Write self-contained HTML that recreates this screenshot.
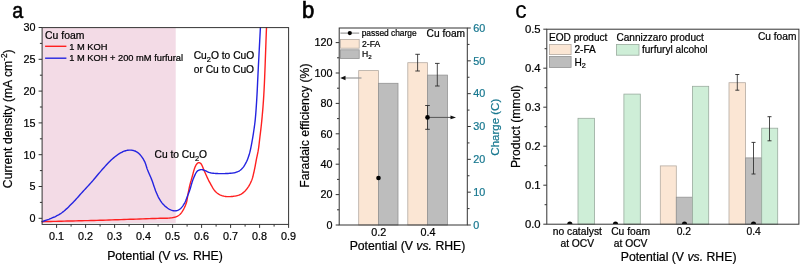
<!DOCTYPE html>
<html><head><meta charset="utf-8"><style>
html,body{margin:0;padding:0;background:#fff;width:800px;height:265px;overflow:hidden}
svg{display:block;will-change:transform}
text{stroke:#000;stroke-width:0.22px;paint-order:stroke}
text.teal{stroke:#17778f}
text.lbl{stroke-width:0}
</style></head><body>
<svg width="800" height="265" viewBox="0 0 800 265" font-family='"Liberation Sans", sans-serif'>
<text transform="translate(12.3,17.7) scale(0.82,0.95)" font-size="24" style="stroke-width:0.6px">a</text>
<rect x="42.1" y="27.6" width="133.6" height="195.4" fill="#f3dbe6"/>
<polyline points="42.10,221.70 44.89,221.63 47.66,221.56 50.44,221.49 53.21,221.42 55.99,221.35 58.77,221.28 61.56,221.21 64.36,221.14 67.17,221.07 70.00,221.00 72.96,220.93 75.93,220.86 78.92,220.80 81.92,220.73 84.93,220.67 87.95,220.60 90.97,220.53 93.98,220.46 97.00,220.38 100.00,220.30 103.00,220.21 106.00,220.12 109.00,220.02 112.00,219.92 115.00,219.82 118.00,219.71 121.00,219.61 124.00,219.50 127.00,219.40 130.00,219.30 133.07,219.20 136.26,219.09 139.51,218.98 142.77,218.87 146.00,218.76 149.16,218.66 152.18,218.56 155.03,218.46 157.65,218.38 160.00,218.30 161.23,218.27 162.38,218.25 163.48,218.24 164.51,218.23 165.50,218.22 166.45,218.21 167.36,218.19 168.25,218.15 169.13,218.09 170.00,218.00 170.67,217.92 171.33,217.84 171.98,217.75 172.60,217.65 173.22,217.54 173.81,217.42 174.39,217.29 174.94,217.14 175.48,216.98 176.00,216.80 176.40,216.64 176.79,216.48 177.16,216.31 177.52,216.13 177.87,215.94 178.21,215.74 178.54,215.53 178.87,215.30 179.18,215.06 179.50,214.80 179.84,214.50 180.16,214.18 180.48,213.84 180.79,213.48 181.09,213.11 181.38,212.72 181.67,212.33 181.95,211.93 182.23,211.52 182.50,211.10 182.80,210.63 183.10,210.13 183.39,209.62 183.68,209.09 183.96,208.55 184.23,208.02 184.49,207.48 184.74,206.94 184.98,206.41 185.20,205.90 185.39,205.46 185.56,205.03 185.72,204.61 185.88,204.20 186.02,203.78 186.17,203.36 186.30,202.93 186.44,202.48 186.57,202.00 186.70,201.50 186.87,200.77 187.04,199.98 187.19,199.16 187.33,198.31 187.47,197.43 187.61,196.54 187.75,195.64 187.89,194.74 188.04,193.86 188.20,193.00 188.37,192.14 188.54,191.28 188.71,190.41 188.88,189.55 189.06,188.68 189.24,187.82 189.43,186.97 189.61,186.13 189.80,185.31 190.00,184.50 190.18,183.80 190.36,183.12 190.54,182.46 190.73,181.81 190.91,181.16 191.11,180.52 191.30,179.86 191.50,179.19 191.70,178.51 191.90,177.80 192.14,176.92 192.39,176.00 192.64,175.04 192.89,174.05 193.15,173.07 193.41,172.09 193.68,171.15 193.95,170.24 194.22,169.38 194.50,168.60 194.70,168.08 194.89,167.56 195.08,167.07 195.28,166.59 195.48,166.13 195.68,165.69 195.89,165.27 196.11,164.89 196.35,164.53 196.60,164.20 196.80,163.97 197.00,163.74 197.22,163.52 197.44,163.32 197.66,163.13 197.89,162.96 198.12,162.82 198.35,162.71 198.57,162.64 198.80,162.60 199.02,162.60 199.24,162.64 199.46,162.70 199.68,162.79 199.91,162.90 200.13,163.04 200.35,163.20 200.57,163.38 200.79,163.58 201.00,163.80 201.37,164.26 201.71,164.82 202.05,165.48 202.37,166.20 202.70,166.98 203.02,167.81 203.34,168.66 203.68,169.52 204.03,170.37 204.40,171.20 204.87,172.23 205.36,173.31 205.86,174.43 206.37,175.57 206.89,176.72 207.42,177.89 207.97,179.05 208.53,180.19 209.11,181.31 209.70,182.40 210.29,183.46 210.89,184.54 211.50,185.64 212.12,186.73 212.75,187.80 213.40,188.83 214.07,189.81 214.76,190.73 215.47,191.56 216.20,192.30 216.79,192.81 217.39,193.28 218.00,193.71 218.63,194.10 219.27,194.45 219.91,194.77 220.57,195.07 221.24,195.33 221.91,195.58 222.60,195.80 223.31,196.01 224.03,196.18 224.76,196.33 225.51,196.44 226.26,196.53 227.02,196.59 227.80,196.63 228.59,196.64 229.39,196.63 230.20,196.60 231.21,196.53 232.27,196.44 233.38,196.31 234.50,196.14 235.63,195.94 236.75,195.70 237.84,195.42 238.89,195.09 239.88,194.72 240.80,194.30 241.55,193.89 242.25,193.43 242.93,192.94 243.57,192.41 244.19,191.85 244.79,191.26 245.36,190.65 245.92,190.01 246.46,189.36 247.00,188.70 247.56,187.96 248.11,187.18 248.63,186.37 249.13,185.53 249.62,184.67 250.08,183.79 250.52,182.90 250.93,182.00 251.33,181.10 251.70,180.20 252.04,179.30 252.35,178.39 252.63,177.48 252.88,176.55 253.12,175.62 253.34,174.67 253.55,173.72 253.77,172.76 253.98,171.78 254.20,170.80 254.44,169.70 254.68,168.58 254.90,167.43 255.13,166.27 255.34,165.10 255.55,163.94 255.77,162.78 255.98,161.63 256.19,160.50 256.40,159.40 256.60,158.43 256.79,157.48 256.99,156.55 257.19,155.63 257.39,154.72 257.58,153.80 257.77,152.88 257.96,151.94 258.13,150.98 258.30,150.00 258.48,148.87 258.64,147.73 258.80,146.57 258.94,145.40 259.09,144.22 259.22,143.01 259.36,141.79 259.50,140.55 259.65,139.29 259.80,138.00 259.98,136.47 260.17,134.91 260.37,133.34 260.56,131.74 260.75,130.11 260.95,128.45 261.14,126.75 261.33,125.01 261.52,123.23 261.70,121.40 261.92,119.06 262.15,116.71 262.36,114.31 262.58,111.87 262.79,109.35 263.00,106.73 263.20,104.01 263.41,101.16 263.60,98.16 263.80,95.00 264.10,89.52 264.39,83.51 264.67,77.06 264.94,70.28 265.20,63.24 265.46,56.05 265.72,48.80 265.97,41.58 266.23,34.48 266.50,27.60" fill="none" stroke="#ff2020" stroke-width="1.4" stroke-linejoin="round" stroke-linecap="round"/>
<polyline points="42.10,221.60 42.95,221.31 43.79,221.02 44.63,220.75 45.47,220.47 46.31,220.20 47.15,219.91 48.00,219.61 48.86,219.30 49.72,218.96 50.60,218.60 51.62,218.17 52.66,217.72 53.71,217.26 54.78,216.78 55.85,216.27 56.92,215.74 57.98,215.19 59.04,214.60 60.08,213.97 61.10,213.30 62.20,212.51 63.29,211.67 64.37,210.78 65.44,209.85 66.49,208.88 67.54,207.89 68.59,206.88 69.63,205.86 70.66,204.83 71.70,203.80 72.78,202.71 73.86,201.59 74.92,200.44 75.98,199.28 77.03,198.10 78.09,196.92 79.14,195.73 80.19,194.55 81.24,193.37 82.30,192.20 83.37,191.04 84.44,189.87 85.53,188.70 86.61,187.53 87.69,186.36 88.76,185.19 89.83,184.03 90.87,182.88 91.90,181.73 92.90,180.60 93.79,179.58 94.65,178.56 95.49,177.55 96.31,176.55 97.13,175.55 97.95,174.56 98.77,173.57 99.60,172.58 100.44,171.59 101.30,170.60 102.21,169.57 103.15,168.52 104.10,167.45 105.07,166.38 106.04,165.32 107.00,164.29 107.94,163.28 108.86,162.33 109.75,161.43 110.60,160.60 111.18,160.05 111.75,159.52 112.30,159.03 112.83,158.56 113.36,158.10 113.89,157.66 114.41,157.24 114.93,156.82 115.46,156.41 116.00,156.00 116.50,155.62 117.00,155.25 117.49,154.88 117.99,154.52 118.49,154.17 118.99,153.83 119.50,153.51 120.02,153.19 120.55,152.89 121.10,152.60 121.70,152.30 122.31,152.01 122.94,151.73 123.58,151.46 124.23,151.20 124.88,150.97 125.54,150.75 126.19,150.57 126.85,150.42 127.50,150.30 128.13,150.22 128.77,150.16 129.41,150.12 130.06,150.11 130.70,150.12 131.34,150.16 131.97,150.22 132.60,150.32 133.21,150.44 133.80,150.60 134.37,150.79 134.93,151.00 135.48,151.24 136.03,151.51 136.56,151.81 137.09,152.13 137.60,152.48 138.11,152.86 138.61,153.27 139.10,153.70 139.69,154.27 140.28,154.90 140.85,155.59 141.41,156.31 141.96,157.07 142.49,157.85 143.01,158.66 143.50,159.47 143.96,160.29 144.40,161.10 144.81,161.93 145.17,162.78 145.50,163.65 145.80,164.54 146.09,165.43 146.37,166.34 146.66,167.25 146.95,168.17 147.26,169.08 147.60,170.00 148.00,170.99 148.41,171.99 148.84,172.99 149.27,174.00 149.72,175.01 150.16,176.03 150.61,177.06 151.05,178.10 151.48,179.14 151.90,180.20 152.33,181.35 152.75,182.53 153.17,183.74 153.58,184.95 153.98,186.17 154.39,187.39 154.80,188.59 155.22,189.76 155.65,190.90 156.10,192.00 156.49,192.93 156.88,193.84 157.28,194.74 157.67,195.62 158.07,196.48 158.49,197.33 158.91,198.16 159.36,198.96 159.82,199.74 160.30,200.50 160.75,201.17 161.22,201.82 161.70,202.46 162.19,203.08 162.70,203.68 163.21,204.26 163.74,204.83 164.28,205.37 164.84,205.90 165.40,206.40 165.96,206.87 166.53,207.33 167.12,207.78 167.72,208.22 168.33,208.63 168.95,209.02 169.57,209.37 170.19,209.69 170.80,209.97 171.40,210.20 171.90,210.36 172.41,210.50 172.92,210.62 173.44,210.71 173.95,210.78 174.45,210.82 174.95,210.83 175.44,210.82 175.93,210.77 176.40,210.70 176.85,210.60 177.29,210.46 177.73,210.30 178.17,210.11 178.59,209.90 179.01,209.66 179.42,209.40 179.82,209.12 180.22,208.82 180.60,208.50 181.04,208.10 181.47,207.65 181.88,207.17 182.29,206.66 182.68,206.13 183.06,205.57 183.43,204.99 183.80,204.40 184.15,203.80 184.50,203.20 184.88,202.48 185.25,201.72 185.61,200.93 185.95,200.11 186.28,199.28 186.61,198.44 186.92,197.62 187.22,196.81 187.51,196.04 187.80,195.30 188.02,194.74 188.23,194.21 188.43,193.70 188.63,193.20 188.82,192.71 189.01,192.21 189.20,191.70 189.39,191.17 189.59,190.61 189.80,190.00 190.11,189.06 190.42,188.04 190.73,186.96 191.05,185.83 191.38,184.67 191.72,183.50 192.07,182.34 192.43,181.21 192.81,180.12 193.20,179.10 193.56,178.21 193.93,177.30 194.32,176.38 194.72,175.47 195.12,174.59 195.53,173.75 195.95,172.98 196.36,172.28 196.78,171.68 197.20,171.20 197.43,170.99 197.65,170.81 197.88,170.66 198.11,170.53 198.34,170.42 198.57,170.32 198.80,170.23 199.03,170.15 199.26,170.08 199.50,170.00 199.72,169.93 199.95,169.86 200.17,169.79 200.40,169.73 200.62,169.68 200.85,169.64 201.08,169.61 201.32,169.60 201.56,169.59 201.80,169.60 202.10,169.63 202.40,169.69 202.71,169.76 203.02,169.86 203.34,169.96 203.66,170.08 203.98,170.21 204.32,170.34 204.66,170.47 205.00,170.60 205.43,170.77 205.86,170.96 206.30,171.17 206.74,171.39 207.19,171.61 207.66,171.84 208.14,172.05 208.64,172.26 209.16,172.44 209.70,172.60 210.45,172.78 211.25,172.94 212.08,173.07 212.95,173.19 213.84,173.29 214.75,173.37 215.68,173.45 216.62,173.51 217.56,173.56 218.50,173.60 219.61,173.64 220.78,173.65 221.98,173.65 223.22,173.63 224.45,173.60 225.67,173.56 226.85,173.51 227.98,173.44 229.04,173.37 230.00,173.30 230.59,173.25 231.14,173.20 231.67,173.16 232.17,173.11 232.66,173.05 233.13,172.98 233.60,172.91 234.06,172.82 234.53,172.72 235.00,172.60 235.46,172.47 235.92,172.33 236.38,172.19 236.83,172.03 237.28,171.86 237.72,171.68 238.16,171.48 238.58,171.27 239.00,171.04 239.40,170.80 239.80,170.53 240.19,170.25 240.58,169.94 240.95,169.62 241.32,169.29 241.68,168.94 242.02,168.59 242.36,168.23 242.69,167.87 243.00,167.50 243.29,167.14 243.57,166.77 243.84,166.39 244.09,166.00 244.34,165.61 244.58,165.21 244.82,164.81 245.05,164.41 245.27,164.00 245.50,163.60 245.72,163.20 245.94,162.80 246.15,162.40 246.35,162.00 246.56,161.60 246.75,161.19 246.94,160.78 247.13,160.36 247.32,159.93 247.50,159.50 247.69,159.03 247.88,158.54 248.06,158.05 248.23,157.56 248.40,157.06 248.57,156.55 248.73,156.04 248.89,155.53 249.05,155.01 249.20,154.50 249.36,153.97 249.50,153.44 249.65,152.92 249.79,152.39 249.93,151.86 250.06,151.32 250.20,150.76 250.33,150.19 250.46,149.61 250.60,149.00 250.77,148.19 250.95,147.35 251.12,146.48 251.29,145.59 251.47,144.67 251.64,143.74 251.81,142.81 251.97,141.87 252.14,140.93 252.30,140.00 252.47,139.02 252.64,138.04 252.80,137.04 252.97,136.04 253.13,135.04 253.29,134.03 253.45,133.02 253.60,132.01 253.75,131.00 253.90,130.00 254.04,129.02 254.18,128.06 254.32,127.11 254.45,126.17 254.58,125.22 254.71,124.25 254.83,123.26 254.96,122.22 255.08,121.14 255.20,120.00 255.37,118.30 255.53,116.51 255.69,114.64 255.84,112.69 255.99,110.69 256.14,108.62 256.28,106.52 256.42,104.37 256.56,102.20 256.70,100.00 256.86,97.27 257.02,94.47 257.17,91.61 257.31,88.69 257.45,85.70 257.59,82.66 257.74,79.57 257.89,76.43 258.04,73.24 258.20,70.00 258.40,66.06 258.61,61.99 258.83,57.82 259.05,53.57 259.27,49.26 259.50,44.91 259.73,40.55 259.95,36.20 260.18,31.87 260.40,27.60" fill="none" stroke="#2424e0" stroke-width="1.4" stroke-linejoin="round" stroke-linecap="round"/>
<rect x="42.1" y="27.6" width="246.50000000000003" height="196.8" fill="none" stroke="#333" stroke-width="1"/>
<line x1="38.6" y1="218.30" x2="42.1" y2="218.30" stroke="#333" stroke-width="1"/>
<text x="35.4" y="222.10000000000002" font-size="10.8" text-anchor="end" fill="#000" >0</text>
<line x1="39.9" y1="202.40" x2="42.1" y2="202.40" stroke="#333" stroke-width="1"/>
<line x1="38.6" y1="186.50" x2="42.1" y2="186.50" stroke="#333" stroke-width="1"/>
<text x="35.4" y="190.3" font-size="10.8" text-anchor="end" fill="#000" >5</text>
<line x1="39.9" y1="170.60" x2="42.1" y2="170.60" stroke="#333" stroke-width="1"/>
<line x1="38.6" y1="154.70" x2="42.1" y2="154.70" stroke="#333" stroke-width="1"/>
<text x="35.4" y="158.50000000000003" font-size="10.8" text-anchor="end" fill="#000" >10</text>
<line x1="39.9" y1="138.80" x2="42.1" y2="138.80" stroke="#333" stroke-width="1"/>
<line x1="38.6" y1="122.90" x2="42.1" y2="122.90" stroke="#333" stroke-width="1"/>
<text x="35.4" y="126.7" font-size="10.8" text-anchor="end" fill="#000" >15</text>
<line x1="39.9" y1="107.00" x2="42.1" y2="107.00" stroke="#333" stroke-width="1"/>
<line x1="38.6" y1="91.10" x2="42.1" y2="91.10" stroke="#333" stroke-width="1"/>
<text x="35.4" y="94.9" font-size="10.8" text-anchor="end" fill="#000" >20</text>
<line x1="39.9" y1="75.20" x2="42.1" y2="75.20" stroke="#333" stroke-width="1"/>
<line x1="38.6" y1="59.30" x2="42.1" y2="59.30" stroke="#333" stroke-width="1"/>
<text x="35.4" y="63.10000000000001" font-size="10.8" text-anchor="end" fill="#000" >25</text>
<line x1="39.9" y1="43.40" x2="42.1" y2="43.40" stroke="#333" stroke-width="1"/>
<line x1="38.6" y1="27.50" x2="42.1" y2="27.50" stroke="#333" stroke-width="1"/>
<text x="35.4" y="31.3" font-size="10.8" text-anchor="end" fill="#000" >30</text>
<line x1="56.60" y1="224.4" x2="56.60" y2="227.9" stroke="#333" stroke-width="1"/>
<text x="56.60" y="239.9" font-size="10.8" text-anchor="middle" fill="#000" >0.1</text>
<line x1="71.10" y1="224.4" x2="71.10" y2="226.6" stroke="#333" stroke-width="1"/>
<line x1="85.60" y1="224.4" x2="85.60" y2="227.9" stroke="#333" stroke-width="1"/>
<text x="85.60" y="239.9" font-size="10.8" text-anchor="middle" fill="#000" >0.2</text>
<line x1="100.10" y1="224.4" x2="100.10" y2="226.6" stroke="#333" stroke-width="1"/>
<line x1="114.60" y1="224.4" x2="114.60" y2="227.9" stroke="#333" stroke-width="1"/>
<text x="114.60" y="239.9" font-size="10.8" text-anchor="middle" fill="#000" >0.3</text>
<line x1="129.10" y1="224.4" x2="129.10" y2="226.6" stroke="#333" stroke-width="1"/>
<line x1="143.60" y1="224.4" x2="143.60" y2="227.9" stroke="#333" stroke-width="1"/>
<text x="143.60" y="239.9" font-size="10.8" text-anchor="middle" fill="#000" >0.4</text>
<line x1="158.10" y1="224.4" x2="158.10" y2="226.6" stroke="#333" stroke-width="1"/>
<line x1="172.60" y1="224.4" x2="172.60" y2="227.9" stroke="#333" stroke-width="1"/>
<text x="172.60" y="239.9" font-size="10.8" text-anchor="middle" fill="#000" >0.5</text>
<line x1="187.10" y1="224.4" x2="187.10" y2="226.6" stroke="#333" stroke-width="1"/>
<line x1="201.60" y1="224.4" x2="201.60" y2="227.9" stroke="#333" stroke-width="1"/>
<text x="201.60" y="239.9" font-size="10.8" text-anchor="middle" fill="#000" >0.6</text>
<line x1="216.10" y1="224.4" x2="216.10" y2="226.6" stroke="#333" stroke-width="1"/>
<line x1="230.60" y1="224.4" x2="230.60" y2="227.9" stroke="#333" stroke-width="1"/>
<text x="230.60" y="239.9" font-size="10.8" text-anchor="middle" fill="#000" >0.7</text>
<line x1="245.10" y1="224.4" x2="245.10" y2="226.6" stroke="#333" stroke-width="1"/>
<line x1="259.60" y1="224.4" x2="259.60" y2="227.9" stroke="#333" stroke-width="1"/>
<text x="259.60" y="239.9" font-size="10.8" text-anchor="middle" fill="#000" >0.8</text>
<line x1="274.10" y1="224.4" x2="274.10" y2="226.6" stroke="#333" stroke-width="1"/>
<line x1="288.60" y1="224.4" x2="288.60" y2="227.9" stroke="#333" stroke-width="1"/>
<text x="288.60" y="239.9" font-size="10.8" text-anchor="middle" fill="#000" >0.9</text>
<text x="165" y="259.6" font-size="12.25" text-anchor="middle" fill="#000" >Potential (V <tspan font-style="italic">vs.</tspan> RHE)</text>
<text transform="translate(11.5,118.8) rotate(-90)" font-size="12.2" text-anchor="middle">Current density (mA cm<tspan dy="-5" font-size="8.2">-2</tspan><tspan dy="5">)</tspan></text>
<text x="45.1" y="39.2" font-size="10.4" text-anchor="start" fill="#000" >Cu foam</text>
<line x1="45.1" y1="46.3" x2="66.4" y2="46.3" stroke="#ff2020" stroke-width="1.4"/>
<text x="69.2" y="49.6" font-size="9.3" text-anchor="start" fill="#000" >1 M KOH</text>
<line x1="45.1" y1="58.2" x2="66.4" y2="58.2" stroke="#2424e0" stroke-width="1.4"/>
<text x="69.2" y="61.0" font-size="9.3" text-anchor="start" fill="#000" >1 M KOH + 200 mM furfural</text>
<text x="154.5" y="157.8" font-size="10.25">Cu to Cu<tspan dy="2.8" font-size="7.4">2</tspan><tspan dy="-2.8">O</tspan></text>
<text x="193.7" y="58.7" font-size="10.25">Cu<tspan dy="2.8" font-size="7.4">2</tspan><tspan dy="-2.8">O to CuO</tspan></text>
<text x="193.7" y="73.2" font-size="10.25" text-anchor="start" fill="#000" >or Cu to CuO</text>
<text transform="translate(301.9,18.0) scale(0.92,0.98)" font-size="24" style="stroke-width:0.7px">b</text>
<rect x="358.7" y="70.6" width="19.70" height="154.40" fill="#fbe6d4" stroke="#b5aba2" stroke-width="0.8"/>
<rect x="378.4" y="83.3" width="19.60" height="141.70" fill="#bdbdbd" stroke="#939393" stroke-width="0.8"/>
<rect x="407.8" y="62.7" width="19.70" height="162.30" fill="#fbe6d4" stroke="#b5aba2" stroke-width="0.8"/>
<rect x="427.5" y="75.1" width="19.90" height="149.90" fill="#bdbdbd" stroke="#939393" stroke-width="0.8"/>
<line x1="417.6" y1="54.3" x2="417.6" y2="71" stroke="#2a2a2a" stroke-width="0.85"/><line x1="415.3" y1="54.3" x2="419.90000000000003" y2="54.3" stroke="#2a2a2a" stroke-width="0.9"/><line x1="415.3" y1="71" x2="419.90000000000003" y2="71" stroke="#2a2a2a" stroke-width="0.9"/>
<line x1="437.3" y1="63.4" x2="437.3" y2="86" stroke="#2a2a2a" stroke-width="0.85"/><line x1="435.0" y1="63.4" x2="439.6" y2="63.4" stroke="#2a2a2a" stroke-width="0.9"/><line x1="435.0" y1="86" x2="439.6" y2="86" stroke="#2a2a2a" stroke-width="0.9"/>
<line x1="344" y1="78" x2="361.5" y2="78" stroke="#999" stroke-width="1.2"/>
<polygon points="340.2,78 345.5,75.8 345.5,80.2" fill="#111"/>
<line x1="427.5" y1="105.5" x2="427.5" y2="129.3" stroke="#2a2a2a" stroke-width="0.85"/><line x1="425.2" y1="105.5" x2="429.8" y2="105.5" stroke="#2a2a2a" stroke-width="0.9"/><line x1="425.2" y1="129.3" x2="429.8" y2="129.3" stroke="#2a2a2a" stroke-width="0.9"/>
<line x1="427.5" y1="117.4" x2="451" y2="117.4" stroke="#555" stroke-width="1"/>
<polygon points="456,117.4 450.5,115.6 450.5,119.2" fill="#111"/>
<circle cx="378.5" cy="178" r="2.3" fill="#000"/>
<circle cx="427.5" cy="117.4" r="2.3" fill="#000"/>
<rect x="339.2" y="28.0" width="128.10000000000002" height="197.0" fill="none" stroke="#333" stroke-width="1"/>
<line x1="335.7" y1="225.00" x2="339.2" y2="225.00" stroke="#333" stroke-width="1"/>
<text x="332.6" y="228.8" font-size="10.8" text-anchor="end" fill="#000" >0</text>
<line x1="337.0" y1="209.80" x2="339.2" y2="209.80" stroke="#333" stroke-width="1"/>
<line x1="335.7" y1="194.60" x2="339.2" y2="194.60" stroke="#333" stroke-width="1"/>
<text x="332.6" y="198.4" font-size="10.8" text-anchor="end" fill="#000" >20</text>
<line x1="337.0" y1="179.40" x2="339.2" y2="179.40" stroke="#333" stroke-width="1"/>
<line x1="335.7" y1="164.20" x2="339.2" y2="164.20" stroke="#333" stroke-width="1"/>
<text x="332.6" y="168.0" font-size="10.8" text-anchor="end" fill="#000" >40</text>
<line x1="337.0" y1="149.00" x2="339.2" y2="149.00" stroke="#333" stroke-width="1"/>
<line x1="335.7" y1="133.80" x2="339.2" y2="133.80" stroke="#333" stroke-width="1"/>
<text x="332.6" y="137.60000000000002" font-size="10.8" text-anchor="end" fill="#000" >60</text>
<line x1="337.0" y1="118.60" x2="339.2" y2="118.60" stroke="#333" stroke-width="1"/>
<line x1="335.7" y1="103.40" x2="339.2" y2="103.40" stroke="#333" stroke-width="1"/>
<text x="332.6" y="107.2" font-size="10.8" text-anchor="end" fill="#000" >80</text>
<line x1="337.0" y1="88.20" x2="339.2" y2="88.20" stroke="#333" stroke-width="1"/>
<line x1="335.7" y1="73.00" x2="339.2" y2="73.00" stroke="#333" stroke-width="1"/>
<text x="332.6" y="76.8" font-size="10.8" text-anchor="end" fill="#000" >100</text>
<line x1="337.0" y1="57.80" x2="339.2" y2="57.80" stroke="#333" stroke-width="1"/>
<line x1="335.7" y1="42.60" x2="339.2" y2="42.60" stroke="#333" stroke-width="1"/>
<text x="332.6" y="46.39999999999999" font-size="10.8" text-anchor="end" fill="#000" >120</text>
<line x1="467.3" y1="225.00" x2="470.8" y2="225.00" stroke="#333" stroke-width="1"/>
<text x="473.3" y="228.8" font-size="10.8" text-anchor="start" fill="#17778f" class="teal">0</text>
<line x1="467.3" y1="208.58" x2="469.5" y2="208.58" stroke="#333" stroke-width="1"/>
<line x1="467.3" y1="192.17" x2="470.8" y2="192.17" stroke="#333" stroke-width="1"/>
<text x="473.3" y="195.96666666666667" font-size="10.8" text-anchor="start" fill="#17778f" class="teal">10</text>
<line x1="467.3" y1="175.75" x2="469.5" y2="175.75" stroke="#333" stroke-width="1"/>
<line x1="467.3" y1="159.33" x2="470.8" y2="159.33" stroke="#333" stroke-width="1"/>
<text x="473.3" y="163.13333333333333" font-size="10.8" text-anchor="start" fill="#17778f" class="teal">20</text>
<line x1="467.3" y1="142.92" x2="469.5" y2="142.92" stroke="#333" stroke-width="1"/>
<line x1="467.3" y1="126.50" x2="470.8" y2="126.50" stroke="#333" stroke-width="1"/>
<text x="473.3" y="130.3" font-size="10.8" text-anchor="start" fill="#17778f" class="teal">30</text>
<line x1="467.3" y1="110.08" x2="469.5" y2="110.08" stroke="#333" stroke-width="1"/>
<line x1="467.3" y1="93.67" x2="470.8" y2="93.67" stroke="#333" stroke-width="1"/>
<text x="473.3" y="97.46666666666665" font-size="10.8" text-anchor="start" fill="#17778f" class="teal">40</text>
<line x1="467.3" y1="77.25" x2="469.5" y2="77.25" stroke="#333" stroke-width="1"/>
<line x1="467.3" y1="60.83" x2="470.8" y2="60.83" stroke="#333" stroke-width="1"/>
<text x="473.3" y="64.63333333333334" font-size="10.8" text-anchor="start" fill="#17778f" class="teal">50</text>
<line x1="467.3" y1="44.42" x2="469.5" y2="44.42" stroke="#333" stroke-width="1"/>
<line x1="467.3" y1="28.00" x2="470.8" y2="28.00" stroke="#333" stroke-width="1"/>
<text x="473.3" y="31.8" font-size="10.8" text-anchor="start" fill="#17778f" class="teal">60</text>
<text x="378.8" y="236.3" font-size="10.8" text-anchor="middle" fill="#000" >0.2</text>
<text x="428" y="236.3" font-size="10.8" text-anchor="middle" fill="#000" >0.4</text>
<text x="407.5" y="250.0" font-size="12.25" text-anchor="middle" fill="#000" >Potential (V <tspan font-style="italic">vs.</tspan> RHE)</text>
<text transform="translate(308.8,125.6) rotate(-90)" font-size="12.25" text-anchor="middle">Faradaic efficiency (%)</text>
<text transform="translate(499,127.2) rotate(-90)" font-size="11.5" text-anchor="middle" fill="#17778f" class="teal">Charge (C)</text>
<line x1="340.4" y1="33.1" x2="359.2" y2="33.1" stroke="#888" stroke-width="1"/>
<circle cx="349.8" cy="33.1" r="2.1" fill="#000"/>
<text x="361.7" y="35.6" font-size="8.4" text-anchor="start" fill="#000" >passed charge</text>
<text x="426.6" y="37.3" font-size="10.2" text-anchor="start" fill="#000" >Cu foam</text>
<rect x="340.4" y="39.4" width="18.80" height="8.80" fill="#fbe6d4" stroke="#b5aba2" stroke-width="0.8"/>
<text x="362" y="46.9" font-size="8.6" text-anchor="start" fill="#000" >2-FA</text>
<rect x="340.4" y="49.8" width="18.80" height="8.70" fill="#bdbdbd" stroke="#939393" stroke-width="0.8"/>
<text x="362" y="57" font-size="8.6">H<tspan dy="2.2" font-size="6.2">2</tspan></text>
<text transform="translate(515.3,18.1) scale(0.95,0.98)" font-size="24" style="stroke-width:0.15px">c</text>
<rect x="578" y="118.3" width="16.50" height="105.90" fill="#ceeed7" stroke="#9aab9e" stroke-width="0.8"/>
<rect x="623.9" y="94.1" width="16.40" height="130.10" fill="#ceeed7" stroke="#9aab9e" stroke-width="0.8"/>
<rect x="660.3" y="165.9" width="16.00" height="58.30" fill="#fbe6d4" stroke="#b5aba2" stroke-width="0.8"/>
<rect x="676.3" y="197.2" width="16.10" height="27.00" fill="#bdbdbd" stroke="#939393" stroke-width="0.8"/>
<rect x="692.4" y="86.3" width="16.30" height="137.90" fill="#ceeed7" stroke="#9aab9e" stroke-width="0.8"/>
<rect x="729" y="82.7" width="16.60" height="141.50" fill="#fbe6d4" stroke="#b5aba2" stroke-width="0.8"/>
<rect x="745.6" y="157.9" width="16.10" height="66.30" fill="#bdbdbd" stroke="#939393" stroke-width="0.8"/>
<rect x="761.7" y="128.2" width="16.00" height="96.00" fill="#ceeed7" stroke="#9aab9e" stroke-width="0.8"/>
<line x1="737.3" y1="74.5" x2="737.3" y2="90.2" stroke="#2a2a2a" stroke-width="0.85"/><line x1="735.3" y1="74.5" x2="739.3" y2="74.5" stroke="#2a2a2a" stroke-width="0.9"/><line x1="735.3" y1="90.2" x2="739.3" y2="90.2" stroke="#2a2a2a" stroke-width="0.9"/>
<line x1="753.5" y1="142.4" x2="753.5" y2="174" stroke="#2a2a2a" stroke-width="0.85"/><line x1="751.5" y1="142.4" x2="755.5" y2="142.4" stroke="#2a2a2a" stroke-width="0.9"/><line x1="751.5" y1="174" x2="755.5" y2="174" stroke="#2a2a2a" stroke-width="0.9"/>
<line x1="769.5" y1="116.7" x2="769.5" y2="140.8" stroke="#2a2a2a" stroke-width="0.85"/><line x1="767.5" y1="116.7" x2="771.5" y2="116.7" stroke="#2a2a2a" stroke-width="0.9"/><line x1="767.5" y1="140.8" x2="771.5" y2="140.8" stroke="#2a2a2a" stroke-width="0.9"/>
<path d="M567.1999999999999,224 A2.6,2.6 0 0 1 572.4,224 Z" fill="#000"/>
<path d="M612.9,224 A2.6,2.6 0 0 1 618.1,224 Z" fill="#000"/>
<path d="M681.9,224 A2.6,2.6 0 0 1 687.1,224 Z" fill="#000"/>
<path d="M750.9,224 A2.6,2.6 0 0 1 756.1,224 Z" fill="#000"/>
<rect x="546.8" y="29.2" width="252.10000000000002" height="195.0" fill="none" stroke="#333" stroke-width="1"/>
<line x1="543.3" y1="224.20" x2="546.8" y2="224.20" stroke="#333" stroke-width="1"/>
<text x="540.6" y="228.2" font-size="11.3" text-anchor="end" fill="#000" >0.0</text>
<line x1="544.5999999999999" y1="204.70" x2="546.8" y2="204.70" stroke="#333" stroke-width="1"/>
<line x1="543.3" y1="185.20" x2="546.8" y2="185.20" stroke="#333" stroke-width="1"/>
<text x="540.6" y="189.2" font-size="11.3" text-anchor="end" fill="#000" >0.1</text>
<line x1="544.5999999999999" y1="165.70" x2="546.8" y2="165.70" stroke="#333" stroke-width="1"/>
<line x1="543.3" y1="146.20" x2="546.8" y2="146.20" stroke="#333" stroke-width="1"/>
<text x="540.6" y="150.2" font-size="11.3" text-anchor="end" fill="#000" >0.2</text>
<line x1="544.5999999999999" y1="126.70" x2="546.8" y2="126.70" stroke="#333" stroke-width="1"/>
<line x1="543.3" y1="107.20" x2="546.8" y2="107.20" stroke="#333" stroke-width="1"/>
<text x="540.6" y="111.19999999999997" font-size="11.3" text-anchor="end" fill="#000" >0.3</text>
<line x1="544.5999999999999" y1="87.70" x2="546.8" y2="87.70" stroke="#333" stroke-width="1"/>
<line x1="543.3" y1="68.20" x2="546.8" y2="68.20" stroke="#333" stroke-width="1"/>
<text x="540.6" y="72.19999999999999" font-size="11.3" text-anchor="end" fill="#000" >0.4</text>
<line x1="544.5999999999999" y1="48.70" x2="546.8" y2="48.70" stroke="#333" stroke-width="1"/>
<line x1="543.3" y1="29.20" x2="546.8" y2="29.20" stroke="#333" stroke-width="1"/>
<text x="540.6" y="33.19999999999999" font-size="11.3" text-anchor="end" fill="#000" >0.5</text>
<text x="577.3" y="234.7" font-size="10.3" text-anchor="middle" fill="#000" >no catalyst</text>
<text x="577.3" y="246.9" font-size="10.3" text-anchor="middle" fill="#000" >at OCV</text>
<text x="630.6" y="234.7" font-size="10.3" text-anchor="middle" fill="#000" >Cu foam</text>
<text x="630.6" y="246.9" font-size="10.3" text-anchor="middle" fill="#000" >at OCV</text>
<text x="683.8" y="234.7" font-size="10.3" text-anchor="middle" fill="#000" >0.2</text>
<text x="753.6" y="234.7" font-size="10.3" text-anchor="middle" fill="#000" >0.4</text>
<text x="678.6" y="261.4" font-size="12.25" text-anchor="middle" fill="#000" >Potential (V <tspan font-style="italic">vs.</tspan> RHE)</text>
<text transform="translate(519.9,126.6) rotate(-90)" font-size="12.15" text-anchor="middle">Product (mmol)</text>
<text x="549" y="40.5" font-size="10.1" text-anchor="start" fill="#000" >EOD product</text>
<text x="616.4" y="40.5" font-size="10.1" text-anchor="start" fill="#000" >Cannizzaro product</text>
<rect x="549.4" y="44.4" width="21.70" height="10.20" fill="#fbe6d4" stroke="#b5aba2" stroke-width="0.8"/>
<text x="574.5" y="52.9" font-size="10.1" text-anchor="start" fill="#000" >2-FA</text>
<rect x="549.4" y="56.5" width="21.70" height="11.00" fill="#bdbdbd" stroke="#939393" stroke-width="0.8"/>
<text x="574.5" y="65.6" font-size="10.1">H<tspan dy="2.5" font-size="7.2">2</tspan></text>
<rect x="616.4" y="44.4" width="22.60" height="10.80" fill="#ceeed7" stroke="#9aab9e" stroke-width="0.8"/>
<text x="641.9" y="52.6" font-size="10.1" text-anchor="start" fill="#000" >furfuryl alcohol</text>
<text x="796.4" y="40" font-size="10.2" text-anchor="end" fill="#000" >Cu foam</text>
</svg>
</body></html>
